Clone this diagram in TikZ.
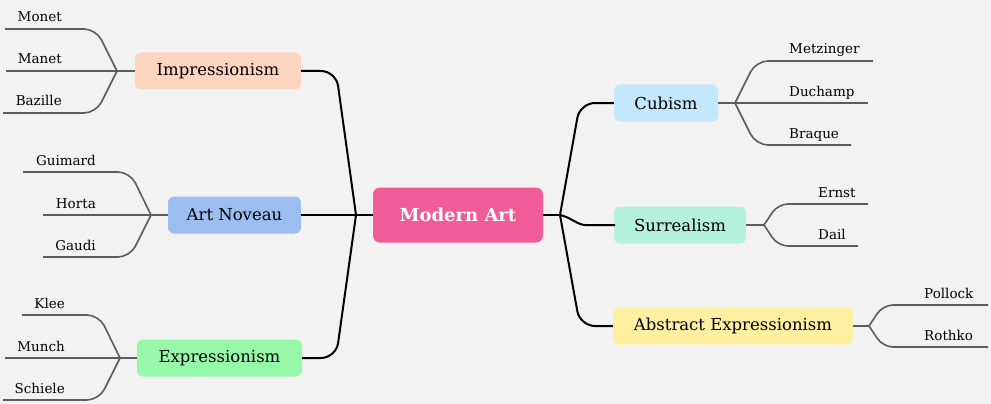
\documentclass[tikz,border=0pt]{standalone}
\usepackage{fontspec}
\setmainfont{DejaVu Serif}
\usepackage{tikz}
\usetikzlibrary{positioning}

\definecolor{bg}{HTML}{F2F2F2}
\definecolor{rootpink}{HTML}{F15B98}
\definecolor{impcol}{HTML}{FDD4BD}
\definecolor{novcol}{HTML}{9BBDF0}
\definecolor{expcol}{HTML}{98F8A9}
\definecolor{cubcol}{HTML}{C3E8FD}
\definecolor{surcol}{HTML}{B3F1DC}
\definecolor{abscol}{HTML}{FEF0A0}
\definecolor{twiggray}{HTML}{5C5C5C}

\tikzset{
  root/.style={fill=rootpink, text=white, rounded corners=7pt, minimum width=170pt,
    minimum height=55pt, font=\fontsize{18}{22}\selectfont\bfseries},
  branch/.style={rounded corners=6pt, minimum height=37pt, font=\fontsize{16.5}{20}\selectfont},
  leaf/.style={inner sep=0pt, font=\fontsize{13.5}{16}\selectfont},
  link/.style={line width=2pt, black, rounded corners=15pt},
  twig/.style={line width=1.6pt, twiggray, rounded corners=12pt},
}

\begin{document}
\begin{tikzpicture}[x=1pt,y=-1pt]
        \fill[bg] (0,0) rectangle (991,404);
        \useasboundingbox (0,0) rectangle (991,404);

      \node[root]                                   (art) at (458,215) {Modern Art};
      \node[branch, fill=impcol, minimum width=166pt] (imp) at (218,71)  {Impressionism};
      \node[branch, fill=novcol, minimum width=133pt] (nov) at (234.5,215) {Art Noveau};
      \node[branch, fill=expcol, minimum width=165pt] (exp) at (219.5,358) {Expressionism};
      \node[branch, fill=cubcol, minimum width=104pt] (cub) at (666,103)   {Cubism};
      \node[branch, fill=surcol, minimum width=132pt] (sur) at (680,225) {Surrealism};
      \node[branch, fill=abscol, minimum width=240pt] (abs) at (733,326)   {Abstract Expressionism};

      \coordinate (jl) at (356,215);
      \coordinate (jr) at (560,215);

      \draw[link] (art.west) -- (jl);
      \draw[link] (jl) -- (336,71) -- (imp.east);
      \draw[link] (jl) -- (nov.east);
      \draw[link] (jl) -- (336,358) -- (exp.east);
      \draw[link] (art.east) -- (jr);
      \draw[link] (jr) -- (580,103) -- (cub.west);
      \draw[link] (jr) .. controls (570,217) and (578,225) .. (600,225) -- (sur.west);
      \draw[link] (jr) -- (580,326) -- (abs.west);

      % Impressionism
      \coordinate (j-imp) at (117,71);
      \draw[twig] (imp.west) -- (j-imp);
      \node[leaf, anchor=base east] (monet)   at (62,22)  {Monet};
      \node[leaf, anchor=base east] (manet)   at (62,64)  {Manet};
      \node[leaf, anchor=base east] (bazille) at (62,106) {Bazille};
      \coordinate (monet-end)   at (5,29);
      \coordinate (manet-end)   at (6,71);
      \coordinate (bazille-end) at (3,113);
      \draw[twig] (j-imp) -- (96,29) -- (monet-end);
      \draw[twig] (j-imp) -- (manet-end);
      \draw[twig] (j-imp) -- (96,113) -- (bazille-end);

      % Art Noveau
      \coordinate (j-nov) at (151,215);
      \draw[twig] (nov.west) -- (j-nov);
      \node[leaf, anchor=base east] (guimard) at (96,165) {Guimard};
      \node[leaf, anchor=base east] (horta)   at (96,208) {Horta};
      \node[leaf, anchor=base east] (gaudi)   at (96,250) {Gaudi};
      \coordinate (guimard-end) at (23,172);
      \coordinate (horta-end)   at (43,215);
      \coordinate (gaudi-end)   at (43,257);
      \draw[twig] (j-nov) -- (130,172) -- (guimard-end);
      \draw[twig] (j-nov) -- (horta-end);
      \draw[twig] (j-nov) -- (130,257) -- (gaudi-end);

      % Expressionism
      \coordinate (j-exp) at (120,358);
      \draw[twig] (exp.west) -- (j-exp);
      \node[leaf, anchor=base east] (klee)    at (65,308) {Klee};
      \node[leaf, anchor=base east] (munch)   at (65,351) {Munch};
      \node[leaf, anchor=base east] (schiele) at (65,393) {Schiele};
      \coordinate (klee-end)    at (22,315);
      \coordinate (munch-end)   at (5,358);
      \coordinate (schiele-end) at (3,400);
      \draw[twig] (j-exp) -- (99,315) -- (klee-end);
      \draw[twig] (j-exp) -- (munch-end);
      \draw[twig] (j-exp) -- (99,400) -- (schiele-end);

      % Cubism
      \coordinate (j-cub) at (735,103);
      \draw[twig] (cub.east) -- (j-cub);
      \node[leaf, anchor=base west] (metzinger) at (789,54)  {Metzinger};
      \node[leaf, anchor=base west] (duchamp)   at (789,96)  {Duchamp};
      \node[leaf, anchor=base west] (braque)    at (789,138) {Braque};
      \coordinate (metzinger-end) at (873,61);
      \coordinate (duchamp-end)   at (868,103);
      \coordinate (braque-end)    at (851,145);
      \draw[twig] (j-cub) -- (756,61) -- (metzinger-end);
      \draw[twig] (j-cub) -- (duchamp-end);
      \draw[twig] (j-cub) -- (756,145) -- (braque-end);

      % Surrealism
      \coordinate (j-sur) at (764,225);
      \draw[twig] (sur.east) -- (j-sur);
      \node[leaf, anchor=base west] (ernst) at (818,197) {Ernst};
      \node[leaf, anchor=base west] (dail)  at (818,239) {Dail};
      \coordinate (ernst-end) at (868,204);
      \coordinate (dail-end)  at (858,246);
      \draw[twig, rounded corners=10pt] (j-sur) -- (778,204) -- (ernst-end);
      \draw[twig, rounded corners=10pt] (j-sur) -- (778,246) -- (dail-end);

      % Abstract Expressionism
      \coordinate (j-abs) at (869,326);
      \draw[twig] (abs.east) -- (j-abs);
      \node[leaf, anchor=base west] (pollock) at (924,298) {Pollock};
      \node[leaf, anchor=base west] (rothko)  at (924,340) {Rothko};
      \coordinate (pollock-end) at (988,305);
      \coordinate (rothko-end)  at (988,347);
      \draw[twig, rounded corners=10pt] (j-abs) -- (883,305) -- (pollock-end);
      \draw[twig, rounded corners=10pt] (j-abs) -- (883,347) -- (rothko-end);
    \end{tikzpicture}
\end{document}
